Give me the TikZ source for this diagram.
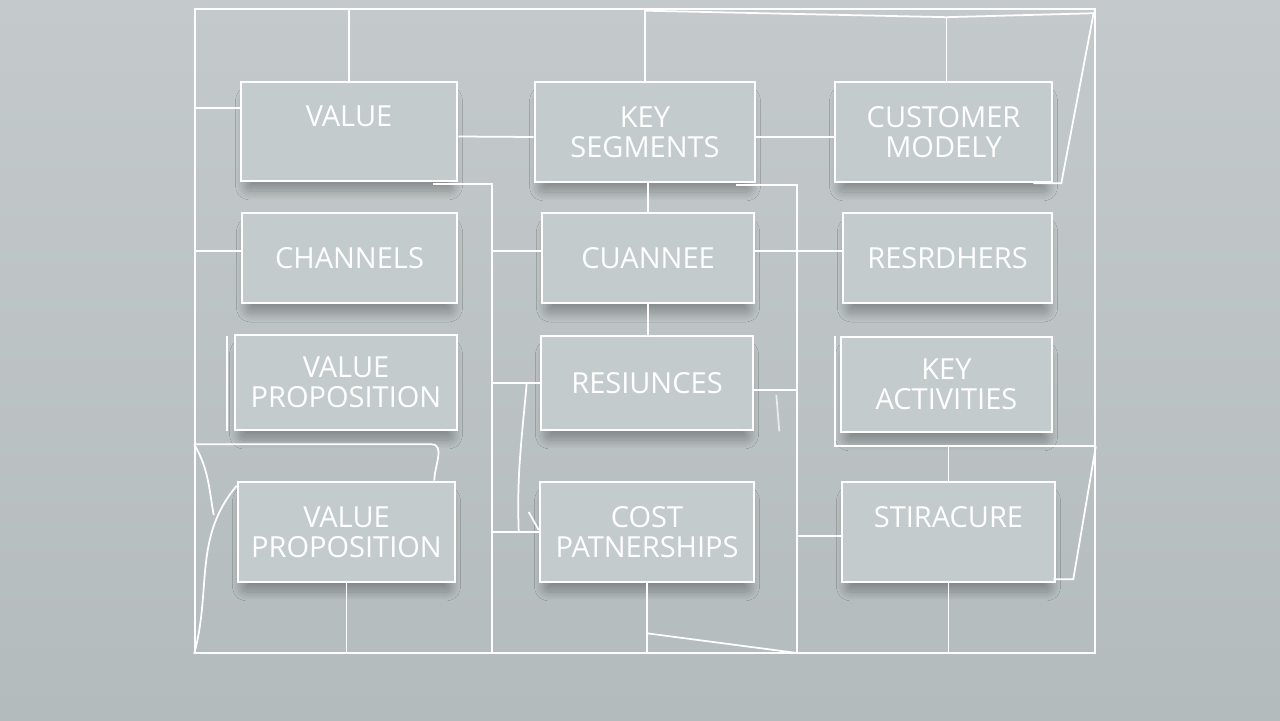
\documentclass[tikz,border=0pt]{standalone}
\usepackage{fontspec}
\setsansfont{Open Sans}
\usepackage{tikz}
\usetikzlibrary{calc}
\usetikzlibrary{shadows.blur}
\definecolor{bgtop}{RGB}{196,202,203}
\definecolor{bgbot}{RGB}{180,187,188}
\definecolor{cardgrey}{RGB}{196,203,204}

\begin{document}
\begin{tikzpicture}[x=0.02cm, y=-0.02cm,
  card/.style={draw=white, line width=1.5pt, fill=cardgrey, inner sep=0pt, align=center, text=white,
    font=\sffamily\fontsize{16.5}{17}\selectfont,
    blur shadow={shadow xshift=0mm, shadow yshift=-2.4mm, shadow blur radius=1.8mm, shadow blur steps=16,
      shadow blur extra rounding=1mm, shadow scale=0.97, shadow opacity=28}},
  wire/.style={draw=white, line width=1pt}]
  \shade[top color=bgtop, bottom color=bgbot] (0,0) rectangle (1280,720);
  \useasboundingbox (0,0) rectangle (1280,720);

  \node[wire, minimum width=18cm, minimum height=12.88cm, inner sep=0pt] (board) at (645,331) {};
  \coordinate (gl) at (492,653);
  \coordinate (gr) at (797,653);

  \node[card, minimum width=4.32cm, minimum height=1.98cm] (a1) at (349,131.5) {VALUE\\\mbox{}};
  \node[card, minimum width=4.4cm, minimum height=2cm] (b1) at (645,132) {KEY\\SEGMENTS};
  \node[card, minimum width=4.34cm, minimum height=2cm] (c1) at (943.5,132) {CUSTOMER\\MODELY};
  \node[card, minimum width=4.3cm, minimum height=1.8cm] (a2) at (349.5,258) {CHANNELS};
  \node[card, minimum width=4.24cm, minimum height=1.8cm] (b2) at (648,258) {CUANNEE};
  \node[card, minimum width=4.18cm, minimum height=1.8cm] (c2) at (947.5,258) {RESRDHERS};
  \node[card, minimum width=4.44cm, minimum height=1.9cm] (a3) at (346,382.5) {VALUE\\PROPOSITION};
  \node[card, minimum width=4.24cm, minimum height=1.88cm] (b3) at (647,383) {RESIUNCES};
  \node[card, minimum width=4.22cm, minimum height=1.9cm] (c3) at (946.5,384.5) {KEY\\ACTIVITIES};
  \node[card, minimum width=4.34cm, minimum height=2cm] (a4) at (346.5,532) {VALUE\\PROPOSITION};
  \node[card, minimum width=4.28cm, minimum height=2cm] (b4) at (647,532) {COST\\PATNERSHIPS};
  \node[card, minimum width=4.26cm, minimum height=2cm] (c4) at (948.5,532) {STIRACURE\\\mbox{}};

  \draw[wire] (a1.north) -- (a1.north |- board.north);
  \draw[wire] (b1.north) -- (b1.north |- board.north);
  \draw[wire] ($(c1.north)+(0.6mm,0)$) -- ($(c1.north |- board.north)+(0.6mm,-1.8mm)$);
  \draw[wire] ($(b1.north |- board.north)+(0,-0.5mm)$) -- ($(c1.north |- board.north)+(0.6mm,-1.8mm)$) -- ($(board.north east)+(0,-1mm)$);
  \draw[wire] ($(a1.west)+(0,4.7mm)$) -- ($(a1.west -| board.west)+(0,4.7mm)$);
  \draw[wire] ($(a1.east)+(0,-1mm)$) -- ($(b1.west)+(0,-1mm)$);
  \draw[wire] ($(b1.east)+(0,-1mm)$) -- ($(c1.west)+(0,-1mm)$);
  \draw[wire] ($(a1.south east)+(-5mm,-0.4mm)$) -| (gl);
  \draw[wire] ($(b1.south east)+(-4mm,-0.4mm)$) -| (gr);
  \draw[wire] (b2.north |- b1.south) -- (b2.north);
  \draw[wire] (b2.south) -- (b2.south |- b3.north);
  \draw[wire] ($(a2.west)+(0,1.4mm)$) -- ($(a2.west -| board.west)+(0,1.4mm)$);
  \draw[wire] ($(b2.west)+(0,1.4mm)$) -| (gl);
  \draw[wire] ($(b2.east)+(0,1.4mm)$) -- ($(c2.west)+(0,1.4mm)$);
  \draw[wire] (b3.west) -| (gl);
  \draw[wire] ($(b3.east)+(0,-1.4mm)$) -| (gr);
  \draw[wire] (b4.west) -| (gl);
  \draw[wire] ($(c4.west)+(0,-0.8mm)$) -| (gr);
  \draw[wire] (a4.south) -- (a4.south |- board.south);
  \draw[wire] (b4.south) -- (b4.south |- board.south);
  \draw[wire] (c4.south) -- (c4.south |- board.south);
  \draw[wire] ($(c4.north |- c3.south)+(0,-2.6mm)$) -- (c4.north);
  \draw[wire] ($(c3.north west)+(-1mm,0)$) -- ($(c3.south west)+(-1mm,-2.6mm)$) -- ($(c3.south west -| board.east)+(0,-2.6mm)$);
  \draw[wire] ($(a3.north west)+(-1.4mm,-0.4mm)$) -- ($(a3.south west)+(-1.4mm,0)$);
  \draw[wire] ($(a3.south west -| board.west)+(0,-2.6mm)$) -- ($(a3.south east)+(-5.4mm,-2.6mm)$) to[out=0,in=90] ($(a4.north east)+(-4.4mm,0)$);
  \draw[wire] ($(a3.south west -| board.west)+(0,-2.6mm)$) to[out=-60,in=100] ($(a4.west)+(-4.6mm,3.4mm)$);
  \draw[wire] (board.south west) to[out=75,in=-130] ($(a4.north west)+(0,-1mm)$);
  \draw[wire] ($(b3.west)+(-2.6mm,0)$) to[out=-95,in=92] ($(b4.west)+(-4mm,0)$);
  \draw[wire] ($(b4.west)+(-2mm,4mm)$) -- ($(b4.west)+(0,0.4mm)$);
  \draw[wire, opacity=0.7] ($(b3.east)+(4.4mm,-2.4mm)$) -- ($(b3.south east)+(5mm,0)$);
  \draw[wire] ($(board.north east)+(-0.4mm,-0.8mm)$) -- ($(c1.south east)+(1.6mm,0)$) -- ($(c1.south east)+(-4mm,0)$);
  \draw[wire] ($(c3.south west -| board.east)+(0,-2.6mm)$) -- ($(c4.south east)+(3.4mm,0.8mm)$) -- ($(c4.south east)+(-0.6mm,0.8mm)$);
  \draw[wire] ($(b4.south)+(0,-10mm)$) -- (gr);
\end{tikzpicture}
\end{document}
